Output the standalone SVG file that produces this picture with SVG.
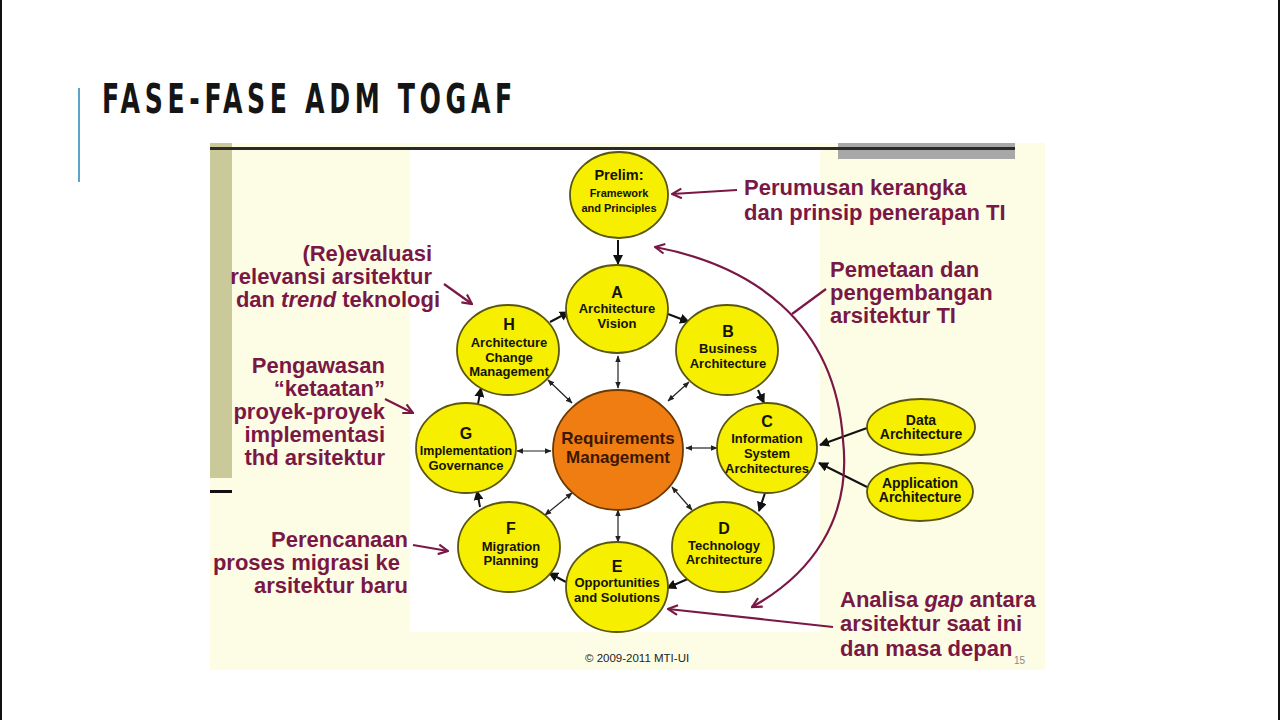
<svg xmlns="http://www.w3.org/2000/svg" width="1280" height="720" viewBox="0 0 1280 720">
<defs>
<style>
.phase{fill:#f6ef00;stroke:#5a5510;stroke-width:1.8}
.rm{fill:#ef7d12;stroke:#6a3a05;stroke-width:1.8}
.pt{font-family:"Liberation Sans",Arial,sans-serif;font-weight:bold;fill:#141400;text-anchor:middle}
.big{font-size:16px}
.sm{font-size:13px}
.note{font-family:"Liberation Sans",Arial,sans-serif;font-weight:bold;font-size:22px;fill:#7a1845}
.cyc{stroke:#111;stroke-width:2;fill:none;marker-end:url(#tri)}
.dbl{stroke:#222;stroke-width:1.2;fill:none;marker-start:url(#sm);marker-end:url(#sm)}
.ann{stroke:#7a1845;stroke-width:2.2;fill:none}
</style>
<marker id="tri" viewBox="0 0 10 10" refX="9" refY="5" markerWidth="10" markerHeight="10" markerUnits="userSpaceOnUse" orient="auto"><path d="M0,0 L10,5 L0,10 Z" fill="#111"/></marker>
<marker id="sm" viewBox="0 0 10 10" refX="9" refY="5" markerWidth="7" markerHeight="7" markerUnits="userSpaceOnUse" orient="auto-start-reverse"><path d="M0,1 L10,5 L0,9 Z" fill="#222"/></marker>
<marker id="mv" viewBox="0 0 10 10" refX="9" refY="5" markerWidth="12" markerHeight="12" markerUnits="userSpaceOnUse" orient="auto-start-reverse"><path d="M1,1 L9,5 L1,9" fill="none" stroke="#7a1845" stroke-width="1.8"/></marker>
</defs>
<rect width="1280" height="720" fill="#ffffff"/>
<rect x="0" y="0" width="2" height="720" fill="#111"/>
<rect x="1278" y="0" width="2" height="720" fill="#111"/>
<g id="title">
<rect x="78" y="88" width="2" height="94" fill="#5aa6c4"/>
<text transform="translate(102,113) scale(0.7,1)" x="0" y="0" font-family="'DejaVu Sans Condensed','Liberation Sans Narrow',sans-serif" font-weight="bold" font-size="40" fill="#151515" textLength="586" lengthAdjust="spacing">FASE-FASE ADM TOGAF</text>
</g>
<g id="picture-bg">
<rect x="210" y="143" width="835" height="527" fill="#fdfde6"/>
<rect x="410" y="149" width="410" height="483" fill="#ffffff"/>
<rect x="210" y="143" width="22" height="335" fill="#c9c99a"/>
<rect x="838" y="143" width="177" height="16" fill="#a8a8a8"/>
<rect x="210" y="147" width="805" height="3" fill="#2a2a2a"/>
<rect x="210" y="490" width="22" height="3" fill="#111"/>
</g>
<g id="connectors">
<line class="cyc" x1="618" y1="240" x2="618" y2="264"/>
<line class="cyc" x1="668" y1="314" x2="689" y2="322"/>
<line class="cyc" x1="758" y1="390" x2="764" y2="403"/>
<line class="cyc" x1="765" y1="493" x2="759" y2="511"/>
<line class="cyc" x1="690" y1="578" x2="667" y2="588"/>
<line class="cyc" x1="566" y1="582" x2="549" y2="573"/>
<line class="cyc" x1="480" y1="507" x2="477" y2="491"/>
<line class="cyc" x1="478" y1="404" x2="481" y2="388"/>
<line class="cyc" x1="550" y1="322" x2="569" y2="312"/>
<line class="dbl" x1="618" y1="356" x2="618" y2="388"/>
<line class="dbl" x1="689" y1="382" x2="668" y2="401"/>
<line class="dbl" x1="548" y1="380" x2="572" y2="403"/>
<line class="dbl" x1="686" y1="448" x2="717" y2="448"/>
<line class="dbl" x1="517" y1="451" x2="551" y2="451"/>
<line class="dbl" x1="672" y1="487" x2="692" y2="510"/>
<line class="dbl" x1="618" y1="510" x2="618" y2="542"/>
<line class="dbl" x1="572" y1="493" x2="545" y2="515"/>
<line stroke="#111" stroke-width="2" marker-end="url(#tri)" x1="867" y1="428" x2="820" y2="445"/>
<line stroke="#111" stroke-width="2" marker-end="url(#tri)" x1="867" y1="487" x2="819" y2="463"/>
<line class="ann" marker-end="url(#mv)" x1="737" y1="190" x2="672" y2="194"/>
<line class="ann" marker-end="url(#mv)" x1="444" y1="284" x2="472" y2="304"/>
<line class="ann" marker-end="url(#mv)" x1="385" y1="399" x2="413" y2="413"/>
<line class="ann" marker-end="url(#mv)" x1="413" y1="545" x2="448" y2="551"/>
<line class="ann" marker-end="url(#mv)" x1="833" y1="627" x2="668" y2="609"/>
<line class="ann" x1="792" y1="314" x2="826" y2="289"/>
<path class="ann" marker-start="url(#mv)" marker-end="url(#mv)" d="M655,247 C750,265 835,320 843,440 C852,520 810,575 752,607"/>
</g>
<g id="prelim"><ellipse class="phase" cx="619" cy="195" rx="49" ry="43"/>
<text class="pt" x="619" y="180" font-size="14.5">Prelim:</text>
<text class="pt" x="619" y="197" font-size="11">Framework</text>
<text class="pt" x="619" y="212" font-size="11">and Principles</text></g>
<g id="phase-a"><ellipse class="phase" cx="617" cy="309" rx="51" ry="44"/>
<text class="pt big" x="617" y="298">A</text>
<text class="pt sm" x="617" y="313">Architecture</text>
<text class="pt sm" x="617" y="328">Vision</text></g>
<g id="phase-b"><ellipse class="phase" cx="727" cy="350" rx="51" ry="45"/>
<text class="pt big" x="728" y="337">B</text>
<text class="pt sm" x="728" y="353">Business</text>
<text class="pt sm" x="728" y="368">Architecture</text></g>
<g id="phase-c"><ellipse class="phase" cx="767" cy="448" rx="50" ry="45"/>
<text class="pt big" x="767" y="427">C</text>
<text class="pt sm" x="767" y="443">Information</text>
<text class="pt sm" x="767" y="458">System</text>
<text class="pt sm" x="767" y="473">Architectures</text></g>
<g id="phase-d"><ellipse class="phase" cx="723" cy="547" rx="51" ry="45"/>
<text class="pt big" x="724" y="534">D</text>
<text class="pt sm" x="724" y="550">Technology</text>
<text class="pt sm" x="724" y="564">Architecture</text></g>
<g id="phase-e"><ellipse class="phase" cx="617" cy="587" rx="51" ry="45"/>
<text class="pt big" x="617" y="572">E</text>
<text class="pt sm" x="617" y="587">Opportunities</text>
<text class="pt sm" x="617" y="602">and Solutions</text></g>
<g id="phase-f"><ellipse class="phase" cx="509" cy="547" rx="51" ry="45"/>
<text class="pt big" x="511" y="534">F</text>
<text class="pt sm" x="511" y="551">Migration</text>
<text class="pt sm" x="511" y="565">Planning</text></g>
<g id="phase-g"><ellipse class="phase" cx="466" cy="448" rx="50" ry="45"/>
<text class="pt big" x="466" y="439">G</text>
<text class="pt sm" x="466" y="455" style="font-size:12.5px">Implementation</text>
<text class="pt sm" x="466" y="470">Governance</text></g>
<g id="phase-h"><ellipse class="phase" cx="508" cy="350" rx="51" ry="45"/>
<text class="pt big" x="509" y="330">H</text>
<text class="pt sm" x="509" y="347">Architecture</text>
<text class="pt sm" x="509" y="362">Change</text>
<text class="pt sm" x="509" y="376">Management</text></g>
<g id="requirements"><ellipse class="rm" cx="618" cy="450" rx="65" ry="60"/>
<text class="pt" x="618" y="444" font-size="17" style="fill:#3a1800">Requirements</text>
<text class="pt" x="618" y="463" font-size="17" style="fill:#3a1800">Management</text></g>
<g id="data-arch"><ellipse class="phase" cx="921" cy="427" rx="54" ry="28"/>
<text class="pt" x="921" y="425" font-size="14">Data</text>
<text class="pt" x="921" y="439" font-size="14">Architecture</text></g>
<g id="app-arch"><ellipse class="phase" cx="920" cy="492" rx="53" ry="29"/>
<text class="pt" x="920" y="488" font-size="14">Application</text>
<text class="pt" x="920" y="502" font-size="14">Architecture</text></g>
<g id="notes">
<text class="note" x="744" y="195">Perumusan kerangka</text>
<text class="note" x="744" y="220">dan prinsip penerapan TI</text>
<text class="note" x="830" y="277">Pemetaan dan</text>
<text class="note" x="830" y="300">pengembangan</text>
<text class="note" x="830" y="323">arsitektur TI</text>
<text class="note" text-anchor="end" x="432" y="261">(Re)evaluasi</text>
<text class="note" text-anchor="end" x="432" y="284">relevansi arsitektur</text>
<text class="note" text-anchor="end" x="440" y="307">dan <tspan font-style="italic">trend</tspan> teknologi</text>
<text class="note" text-anchor="end" x="385" y="373">Pengawasan</text>
<text class="note" text-anchor="end" x="385" y="396">“ketaatan”</text>
<text class="note" text-anchor="end" x="385" y="419">proyek-proyek</text>
<text class="note" text-anchor="end" x="385" y="442">implementasi</text>
<text class="note" text-anchor="end" x="385" y="465">thd arsitektur</text>
<text class="note" text-anchor="end" x="408" y="547">Perencanaan</text>
<text class="note" text-anchor="end" x="400" y="570">proses migrasi ke</text>
<text class="note" text-anchor="end" x="408" y="593">arsitektur baru</text>
<text class="note" x="840" y="607">Analisa <tspan font-style="italic">gap</tspan> antara</text>
<text class="note" x="840" y="631">arsitektur saat ini</text>
<text class="note" x="840" y="656">dan masa depan</text>
<text x="1014" y="664" font-family="'Liberation Sans',Arial,sans-serif" font-size="10" fill="#888">15</text>
<text x="585" y="662" font-family="'Liberation Sans',Arial,sans-serif" font-size="11.5" fill="#222">© 2009-2011 MTI-UI</text>
</g>
</svg>
